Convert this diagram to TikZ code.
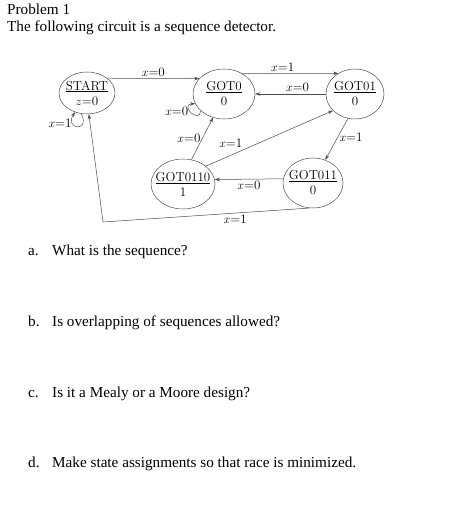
\documentclass[tikz,border=0pt]{standalone}
\usepackage{fontspec}
\newfontfamily\qfont{Liberation Serif}
\usetikzlibrary{shapes.geometric,arrows.meta,positioning}

\begin{document}
\begin{tikzpicture}[x=1pt, y=-1pt,
    state/.style={ellipse, draw=black!70, line width=0.5pt, inner xsep=-10pt, inner ysep=-6pt,
        minimum width=60pt, minimum height=50pt, align=center, font=\fontsize{13}{15}\selectfont},
    trans/.style={draw=black!70, line width=0.5pt, -{Stealth[length=5pt,width=3.5pt]}},
    lbl/.style={font=\fontsize{13}{15}\selectfont, inner sep=1.5pt},
    question/.style={anchor=base west, inner sep=0pt, font=\qfont\fontsize{15.2}{18}\selectfont}
]
\useasboundingbox (0,0) rectangle (474,510);

\node[question] (title) at (7,15) {Problem 1};
\node[question] (intro) at (7,32) {The following circuit is a sequence detector.};

\node[state, minimum width=56pt, minimum height=42pt] (start) at (87,93) {\underline{START}\\$z$=0};
\node[state, minimum width=62pt] (got0) at (224,94) {\underline{GOT0}\\0};
\node[state, minimum width=58pt] (got01) at (355,94) {\underline{GOT01}\\0};
\node[state, minimum width=64pt] (got0110) at (183,184) {\underline{GOT0110}\\1};
\node[state, minimum width=60pt] (got011) at (313,183) {\underline{GOT011}\\0};
\coordinate (corner) at (103,222);

\draw[trans] (start.36) -- node[lbl, above] {$x$=0} (got0.148);
\draw[trans] (start.255) .. controls +(9,19) and +(-11,17) .. (start.238)
    node[lbl, pos=0.7, left] {$x$=1};
\draw[trans] (got0.215) .. controls +(0,14) and +(-16,2) .. (got0.198)
    node[lbl, pos=0.6, left] {$x$=0};
\draw[trans] (got0.48) -- node[lbl, above, pos=0.42] {$x$=1} (got01.129);
\draw[trans] (got01.180) -- node[lbl, above, pos=0.4] {$x$=0} (got0.0);
\draw[trans] (got0110.71) -- node[lbl, left] {$x$=0} (got0.245);
\draw[trans] (got0110.38) -- node[lbl, above left, pos=0.3] {$x$=1} (got01.217);
\draw[trans] (got01.254) -- node[lbl, right, pos=0.45] {$x$=1} (got011.62);
\draw[trans] (got011.172) -- node[lbl, below] {$x$=0} (got0110.8);
\draw[trans] (got011.262) -- node[lbl, below, pos=0.36] {$x$=1} (corner) -- (start.275);

\node[question] (qa) at (28,255) {a.};
\node[question] (qatext) at (52,255) {What is the sequence?};
\node[question] (qb) at (28,326) {b.};
\node[question] (qbtext) at (52,326) {Is overlapping of sequences allowed?};
\node[question] (qc) at (28,397) {c.};
\node[question] (qctext) at (52,397) {Is it a Mealy or a Moore design?};
\node[question] (qd) at (28,467) {d.};
\node[question] (qdtext) at (52,467) {Make state assignments so that race is minimized.};
\end{tikzpicture}
\end{document}
